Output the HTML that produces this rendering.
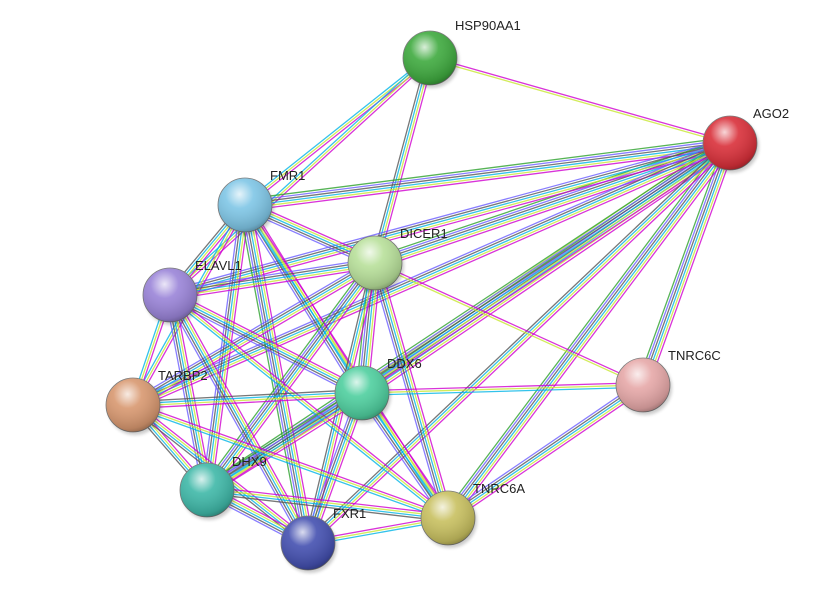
<!DOCTYPE html>
<html><head><meta charset="utf-8">
<style>
html,body{margin:0;padding:0;background:#fff;width:831px;height:593px;overflow:hidden}
svg text{font-family:"Liberation Sans",sans-serif;font-size:13px;fill:#222}
</style></head>
<body>
<svg id="s" width="831" height="593" xmlns="http://www.w3.org/2000/svg">
<defs>
<radialGradient id="sh" cx="0.4" cy="0.3" r="0.75">
<stop offset="0" stop-color="#fff" stop-opacity="0.8"/>
<stop offset="0.35" stop-color="#fff" stop-opacity="0.1"/>
<stop offset="0.85" stop-color="#000" stop-opacity="0.15"/>
<stop offset="1" stop-color="#000" stop-opacity="0.35"/>
</radialGradient>
<filter id="bl" x="-20%" y="-20%" width="140%" height="140%"><feGaussianBlur stdDeviation="1.5"/></filter>
</defs>
<g id="edges"></g>
<g id="nodes"></g>
</svg>
<script>
var N={
HSP:[430,58,'#3faa3f','HSP90AA1',455,30],
AGO:[730,143,'#d9303a','AGO2',753,118],
FMR:[245,205,'#7fc6e6','FMR1',270,180],
DIC:[375,263,'#b8e09a','DICER1',400,238],
ELA:[170,295,'#9a84d8','ELAVL1',195,270],
DDX:[362,393,'#4fcf9f','DDX6',387,368],
TN6C:[643,385,'#e6a8a8','TNRC6C',668,360],
TAR:[133,405,'#d89870','TARBP2',158,380],
DHX:[207,490,'#3fb8a8','DHX9',232,466],
FXR:[308,543,'#4450b0','FXR1',333,518],
TN6A:[448,518,'#c8c060','TNRC6A',473,493]
};
var E=[
['HSP','AGO',2],['HSP','FMR',3],['HSP','DIC',4],['HSP','ELA',3],
['AGO','FMR',6],['AGO','DIC',6],['AGO','ELA',5],['AGO','DDX',7],['AGO','TN6C',6],['AGO','TN6A',6],['AGO','DHX',6],['AGO','FXR',4],['AGO','TAR',5],
['FMR','DIC',5],['FMR','ELA',4],['FMR','DDX',5],['FMR','DHX',5],['FMR','FXR',6],['FMR','TAR',3],['FMR','TN6A',3],
['DIC','ELA',5],['DIC','DDX',6],['DIC','TAR',5],['DIC','DHX',6],['DIC','FXR',4],['DIC','TN6C',2],['DIC','TN6A',5],
['ELA','DDX',5],['ELA','DHX',5],['ELA','FXR',5],['ELA','TAR',3],['ELA','TN6A',3],
['DDX','TN6C',3],['DDX','TN6A',5],['DDX','DHX',6],['DDX','FXR',5],['DDX','TAR',4],
['TN6C','TN6A',5],['TAR','DHX',4],['TAR','FXR',4],['TAR','TN6A',3],
['DHX','FXR',5],['DHX','TN6A',4],['FXR','TN6A',3]
];
var C=['#d000d0','#c8e632','#00b4e6','#555555','#6a5cff','#2ca02c','#b8dd40'];
var ns='http://www.w3.org/2000/svg',eg=document.getElementById('edges'),ng=document.getElementById('nodes');
E.forEach(function(e){
 var a=N[e[0]],b=N[e[1]],k=e[2];
 var dx=b[0]-a[0],dy=b[1]-a[1],L=Math.sqrt(dx*dx+dy*dy),px=-dy/L,py=dx/L;
 for(var i=0;i<k;i++){
  var o=(i-(k-1)/2)*2.3;
  var l=document.createElementNS(ns,'line');
  l.setAttribute('x1',a[0]+px*o);l.setAttribute('y1',a[1]+py*o);
  l.setAttribute('x2',b[0]+px*o);l.setAttribute('y2',b[1]+py*o);
  l.setAttribute('stroke',C[i%C.length]);l.setAttribute('stroke-width','1.3');
  l.setAttribute('stroke-opacity','0.8');
  eg.appendChild(l);
 }
});
for(var key in N){
 var n=N[key];
 var s=document.createElementNS(ns,'circle');
 s.setAttribute('cx',n[0]+2);s.setAttribute('cy',n[1]+3);s.setAttribute('r',27);
 s.setAttribute('fill','#000');s.setAttribute('opacity','0.2');s.setAttribute('filter','url(#bl)');
 ng.appendChild(s);
 var c=document.createElementNS(ns,'circle');
 c.setAttribute('cx',n[0]);c.setAttribute('cy',n[1]);c.setAttribute('r',27);
 c.setAttribute('fill',n[2]);c.setAttribute('stroke','#777');c.setAttribute('stroke-width','0.8');
 ng.appendChild(c);
 var h=document.createElementNS(ns,'circle');
 h.setAttribute('cx',n[0]);h.setAttribute('cy',n[1]);h.setAttribute('r',27);
 h.setAttribute('fill','url(#sh)');ng.appendChild(h);
 var t=document.createElementNS(ns,'text');
 t.setAttribute('x',n[4]);t.setAttribute('y',n[5]);t.textContent=n[3];
 ng.appendChild(t);
}
</script>
</body></html>
